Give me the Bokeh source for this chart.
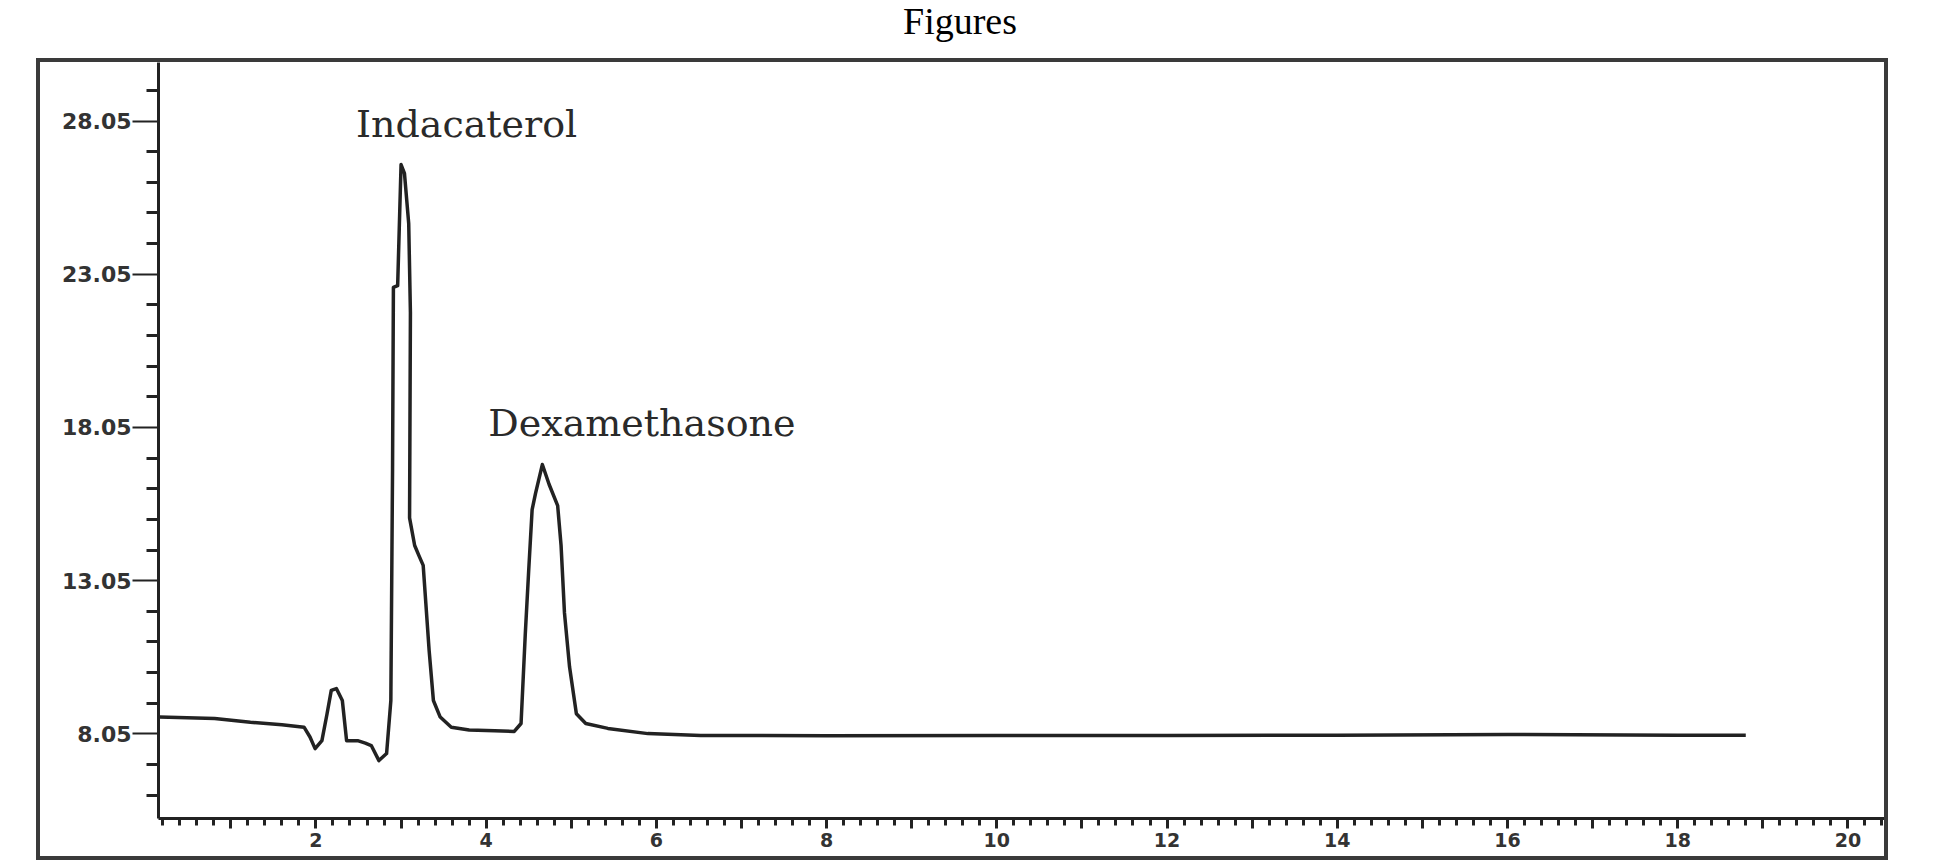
from bokeh.plotting import figure
from bokeh.models import FixedTicker, Label, Range1d, Div
from bokeh.layouts import column
from bokeh.embed import file_html
from bokeh.resources import INLINE

# ---- data ----
time_min = [0.16, 0.81, 1.23, 1.60, 1.86, 1.93, 1.99, 2.07, 2.13, 2.18, 2.24, 2.31,
            2.36, 2.49, 2.58, 2.65, 2.74, 2.83, 2.88, 2.90, 2.91, 2.96, 3.00, 3.04,
            3.09, 3.11, 3.10, 3.16, 3.21, 3.26, 3.33, 3.38, 3.46, 3.59, 3.80, 4.10,
            4.33, 4.41, 4.46, 4.50, 4.54, 4.58, 4.66, 4.74, 4.84, 4.88, 4.92, 4.98,
            5.06, 5.17, 5.43, 5.90, 6.52, 8.0, 10.0, 12.0, 14.0, 16.0, 18.0, 18.8]
signal = [8.60, 8.55, 8.43, 8.35, 8.27, 7.95, 7.57, 7.83, 8.70, 9.47, 9.53, 9.14,
          7.83, 7.83, 7.75, 7.67, 7.18, 7.41, 9.14, 16.68, 22.62, 22.68, 26.63, 26.34,
          24.70, 21.80, 15.10, 14.20, 13.87, 13.55, 10.77, 9.14, 8.60, 8.27, 8.18, 8.15,
          8.13, 8.39, 11.33, 13.40, 15.37, 15.90, 16.84, 16.19, 15.50, 14.20, 12.00, 10.23,
          8.71, 8.39, 8.23, 8.06, 8.00, 7.99, 8.00, 8.00, 8.01, 8.03, 8.01, 8.01]

y_major_ticks = [8.05, 13.05, 18.05, 23.05, 28.05]
y_minor_ticks = [6.05, 7.05, 9.05, 10.05, 11.05, 12.05, 14.05, 15.05, 16.05, 17.05,
                 19.05, 20.05, 21.05, 22.05, 24.05, 25.05, 26.05, 27.05, 29.05]
x_major_ticks = [1, 2, 3, 4, 5, 6, 7, 8, 9, 10, 11, 12, 13, 14, 15, 16, 17, 18, 19, 20]
x_labelled_ticks = [2, 4, 6, 8, 10, 12, 14, 16, 18, 20]
x_minor_ticks = [round(i * 0.2, 1) for i in range(1, 103) if i % 5 != 0]

peak_names = ["Indacaterol", "Dexamethasone"]
peak_label_x = [3.77, 5.83]
peak_label_y = [27.94, 18.18]
title_text = "Figures"

INK = "#222222"
BOX = "#3a3a3a"
X0, X1 = 0.15, 20.43
Y0, Y1 = 5.29, 29.96

title_div = Div(text=title_text, width=1920, height=62, margin=(0, 0, 0, 0),
                styles={"font-family": "Liberation Serif", "font-size": "38px",
                        "line-height": "43px", "text-align": "center", "color": "black"})

p = figure(width=1844, height=794, output_backend="svg", toolbar_location=None,
           x_range=Range1d(X0, X1), y_range=Range1d(Y0, Y1),
           min_border_left=118, min_border_right=0, min_border_top=0, min_border_bottom=38)
p.margin = (0, 0, 0, 40)
p.styles = {"outline": "4px solid " + BOX}
p.background_fill_color = "white"
p.border_fill_color = "white"
p.outline_line_color = None
p.xgrid.visible = False
p.ygrid.visible = False

p.line(time_min, signal, line_color=INK, line_width=3.5, line_join="round")

# axes
xa = p.xaxis[0]
xa.ticker = FixedTicker(ticks=x_major_ticks, minor_ticks=x_minor_ticks)
xa.major_label_overrides = {t: "" for t in x_major_ticks if t not in x_labelled_ticks}
xa.axis_line_width = 3
xa.axis_line_color = INK
xa.major_tick_in = 0
xa.major_tick_out = 10
xa.minor_tick_in = 0
xa.minor_tick_out = 7
xa.major_tick_line_width = 3
xa.minor_tick_line_width = 3
xa.major_tick_line_color = INK
xa.minor_tick_line_color = INK
xa.major_label_standoff = 4
xa.major_label_text_font = "DejaVu Sans"
xa.major_label_text_font_style = "bold"
xa.major_label_text_font_size = "19px"
xa.major_label_text_color = "#333333"

ya = p.yaxis[0]
ya.ticker = FixedTicker(ticks=y_major_ticks, minor_ticks=y_minor_ticks)
ya.axis_line_width = 3
ya.axis_line_color = INK
ya.major_tick_in = 0
ya.major_tick_out = 26
ya.minor_tick_in = 0
ya.minor_tick_out = 12
ya.major_tick_line_width = 2
ya.minor_tick_line_width = 3
ya.major_tick_line_color = INK
ya.minor_tick_line_color = INK
ya.major_label_standoff = 1
ya.major_label_text_font = "DejaVu Sans"
ya.major_label_text_font_style = "bold"
ya.major_label_text_font_size = "22px"
ya.major_label_text_color = "#333333"

# peak labels
for name, lx, ly in zip(peak_names, peak_label_x, peak_label_y):
    p.add_layout(Label(x=lx, y=ly, text=name, text_align="center", text_baseline="middle",
                       text_font="DejaVu Serif", text_font_size="38px", text_color="#2a2a2a"))

layout = column(title_div, p, spacing=0)
open("out.html", "w").write(file_html(layout, INLINE))
